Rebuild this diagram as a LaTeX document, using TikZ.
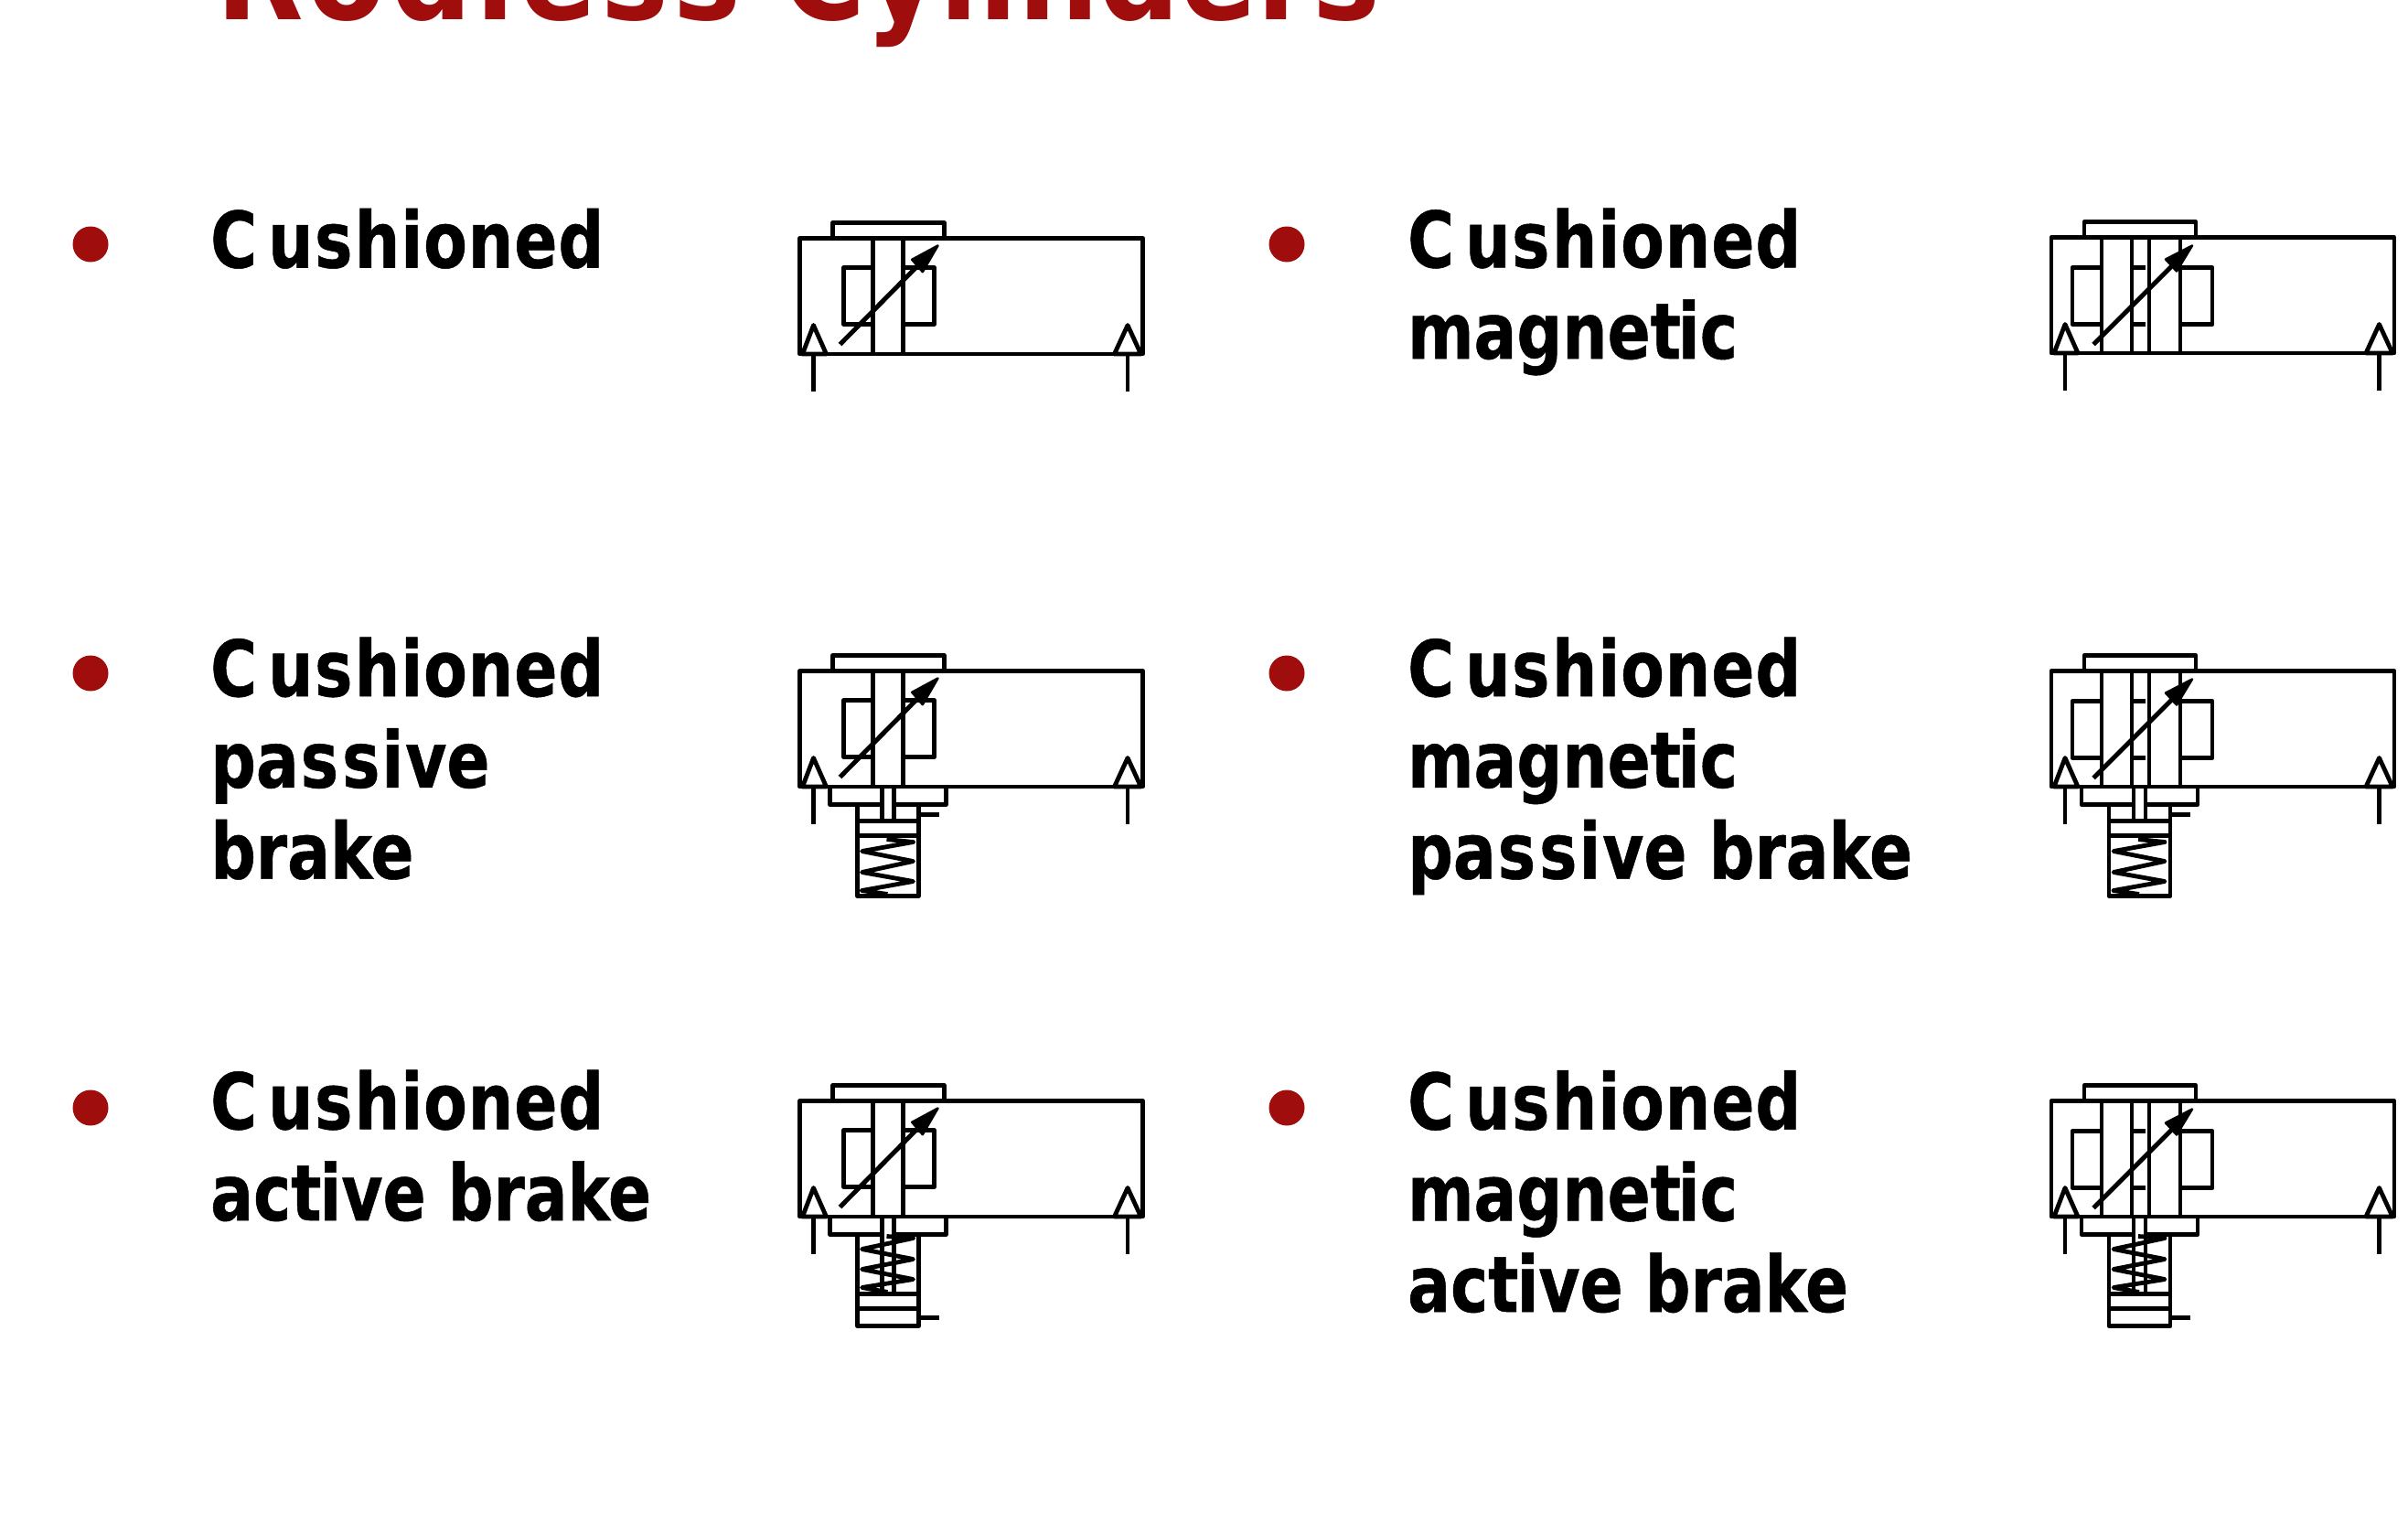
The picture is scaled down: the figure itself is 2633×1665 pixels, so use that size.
\documentclass[tikz,border=0pt]{standalone}
\usepackage{fontspec}
\setmainfont{DejaVu Sans}[FakeStretch=0.817,BoldFeatures={FakeBold=0.6}]
\newfontfamily\titlefont{DejaVu Sans}[FakeStretch=0.887]
\definecolor{brandred}{HTML}{A00D0D}
\newcommand{\Cu}{C\kern12pt u\kern1.5pt s\kern2.5pt h\kern1pt i\kern1pt o\kern1pt n\kern1pt e\kern1pt d}
\newcommand{\Mag}{magnet\kern-3pt ic}
\newcommand{\Pas}{pa\kern2pt s\kern4pt s\kern2pt i\kern2pt ve}
\newcommand{\Act}{act\kern-2pt ive}
\tikzset{
  sym/.style={line width=4.8pt,line join=round,black},
  label/.style={anchor=base west,inner sep=0pt,align=left,font=\fontsize{85}{99.7}\selectfont\bfseries},
  bullet/.style={circle,fill=brandred,minimum size=39pt,inner sep=0pt},
  shared/.pic={
    \draw[sym] (0,0) rectangle (375,126.5);
    \draw[sym] (36,0) |- (158,-17) -- (158,0);
    \draw[sym] (15,95) -- (3,126.5) -- (29,126.5) -- cycle;
    \draw[sym] (358.5,95) -- (344,126.5) -- (373,126.5) -- cycle;
    \draw[sym] (15,126.5) -- (15,167);
    \draw[sym] (358.5,126.5) -- (358.5,167);
  },
  single/.pic={
    \draw[sym] (80,0) -- (80,126.5);
    \draw[sym] (113,0) -- (113,126.5);
    \draw[sym] (80,32) -- (48,32) -- (48,94) -- (80,94);
    \draw[sym] (113,32) -- (147,32) -- (147,94) -- (113,94);
    \draw[line width=5pt] (44,116) -- (131,28);
    \fill[black,draw=black,line width=2.5pt,line join=round] (151,8) -- (122.7,23.3) -- (134.3,36.7) -- cycle;
  },
  double/.pic={
    \foreach \cx in {55,88,107,141} {\draw[sym] (\cx,0) -- (\cx,126.5);}
    \draw[sym] (55,33) -- (23,33) -- (23,95) -- (55,95);
    \draw[sym] (141,33) -- (176,33) -- (176,95) -- (141,95);
    \draw[sym] (88,33) -- (103,33);
    \draw[sym] (88,95) -- (103,95);
    \draw[line width=5pt] (46,117) -- (134,29);
    \fill[black,draw=black,line width=2.5pt,line join=round] (154,9) -- (125,24) -- (137,37) -- cycle;
  },
  passive/.pic={
    \draw[sym] (90,146) -- (33,146) -- (33,127) (103,146) -- (160,146) -- (160,127);
    \draw[sym] (63,146) -- (63,246) -- (130,246) -- (130,146);
    \draw[sym] (90,127) -- (90,164);
    \draw[sym] (103,127) -- (103,164);
    \draw[sym] (63,164) -- (130,164);
    \draw[sym] (63,180) -- (130,180);
    \draw[sym] (130,157) -- (152,157);
    \draw[sym] (95,184) -- (124,187) -- (68,197) -- (124,208) -- (68,220) -- (124,230) -- (68,240) -- (96,244);
  },
  active/.pic={
    \draw[sym] (90,146) -- (33,146) -- (33,127) (103,146) -- (160,146) -- (160,127);
    \draw[sym] (63,146) -- (63,246) -- (130,246) -- (130,146);
    \draw[sym] (90,127) -- (90,211);
    \draw[sym] (103,127) -- (103,211);
    \draw[sym] (63,211) -- (130,211);
    \draw[sym] (63,227) -- (130,227);
    \draw[sym] (130,237) -- (152,237);
    \draw[sym] (95,148) -- (124,150) -- (68,162) -- (124,173) -- (68,184) -- (124,195) -- (68,204) -- (96,209);
  },
}
\begin{document}
\begin{tikzpicture}[x=1pt,y=-1pt]
\useasboundingbox (0,0) rectangle (2633,1665);
\clip (0,0) rectangle (2633,1665);
\node[anchor=base west,inner sep=0pt,text=brandred,font=\fontsize{140}{150}\selectfont\bfseries\titlefont] (title) at (236,21) {R\kern5pt o\kern5pt d\kern5pt l\kern5pt e\kern5pt s\kern5pt s\kern2pt{} Cylinders};
\node[bullet] (b1) at (99,267) {};
\node[bullet] (b2) at (99,736) {};
\node[bullet] (b3) at (99,1211) {};
\node[bullet] (b4) at (1407,267) {};
\node[bullet] (b5) at (1407,736) {};
\node[bullet] (b6) at (1407,1211) {};
\node[label] (t1) at (230,292.5) {\Cu};
\node[label] (t2) at (230,960.5) {\Cu\\\Pas\\brake};
\node[label] (t3) at (230,1334) {\Cu\\\Act{} brake};
\node[label] (t4) at (1539,392) {\Cu\\\Mag};
\node[label] (t5) at (1539,960.5) {\Cu\\\Mag\\\Pas{} brake};
\node[label] (t6) at (1539,1434) {\Cu\\\Mag\\\Act{} brake};
\pic at (874.5,260.5) {shared}; \pic at (874.5,260.5) {single};
\pic at (874.5,733.5) {shared}; \pic at (874.5,733.5) {single}; \pic at (874.5,733.5) {passive};
\pic at (874.5,1203.5) {shared}; \pic at (874.5,1203.5) {single}; \pic at (874.5,1203.5) {active};
\pic at (2243,259.5) {shared}; \pic at (2243,259.5) {double};
\pic at (2243,733.5) {shared}; \pic at (2243,733.5) {double}; \pic at (2243,733.5) {passive};
\pic at (2243,1203.5) {shared}; \pic at (2243,1203.5) {double}; \pic at (2243,1203.5) {active};
\end{tikzpicture}
\end{document}
